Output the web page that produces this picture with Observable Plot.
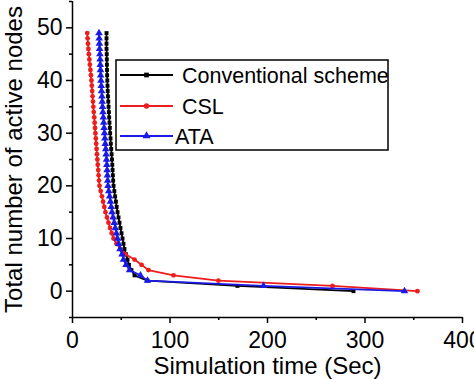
<!DOCTYPE html>
<html>
<head>
<meta charset="utf-8">
<script src="https://cdn.jsdelivr.net/npm/d3@7"></script>
<script src="https://cdn.jsdelivr.net/npm/@observablehq/plot@0.6"></script>
<style>
  html, body { margin: 0; padding: 0; background: #fff; }
  #chart { width: 474px; height: 379px; }
</style>
</head>
<body>
<div id="chart"></div>
<script>
// Number of active nodes (y) for each recorded step
const nodes = [49,48,47,46,45,44,43,42,41,40,39,38,37,36,35,34,33,32,31,30,29,28,27,26,25,24,23,22,21,20,19,18,17,16,15,14,13,12,11,10,9,8,7,6,5,4,3,2,1,0];

// Simulation time (Sec) at which each node count is reached
const conventionalTime = [34.9,34.9,34.9,34.9,35.1,35.2,35.3,35.4,35.5,35.7,35.9,36.1,36.4,36.7,37.0,37.3,37.6,37.9,38.3,38.6,39.0,39.3,39.7,40.1,40.5,40.8,41.1,41.4,41.7,42.1,42.9,43.7,44.5,45.3,46.2,47.2,48.2,49.2,50.3,51.3,52.3,53.3,54.9,56.4,57.9,60.5,63.6,76.9,169.2,288.2];
const cslTime = [15.1,15.5,15.9,16.3,16.8,17.3,17.8,18.4,18.9,19.4,19.8,20.2,20.6,21.0,21.4,21.8,22.3,22.7,23.1,23.5,23.9,24.3,24.7,25.1,25.5,25.9,26.4,26.8,27.2,27.7,28.9,30.2,31.4,32.6,33.8,35.4,36.9,38.5,40.2,42.1,45.1,49.2,54.4,63.6,70.8,77.9,103.6,149.7,266.7,353.8];
const ataTime = [27.2,27.4,27.6,27.8,28.1,28.3,28.5,28.7,28.9,29.2,29.5,29.8,30.2,30.5,30.8,31.2,31.6,32.0,32.4,32.8,33.2,33.6,34.1,34.5,34.9,35.2,35.5,35.8,36.1,36.4,37.2,38.1,38.9,39.7,40.5,41.6,42.8,43.9,45.0,46.2,47.4,48.7,50.8,52.3,54.9,58.5,69.7,76.9,195.9,340.5];

const seriesNames = ["Conventional scheme", "CSL", "ATA"];
const xMajorTicks = [0, 100, 200, 300, 400];
const xMinorTicks = [50, 150, 250, 350];
const yMajorTicks = [0, 10, 20, 30, 40, 50];
const yMinorTicks = [-5, 5, 15, 25, 35, 45, 55];

const seriesTimes = [conventionalTime, cslTime, ataTime];
const colors = ["#000000", "#ee1c1c", "#1a1ae6"];
const symbols = ["square", "circle", "triangle"];
const radii = [2.2, 2.4, 2.8];

const data = seriesNames.flatMap((name, si) =>
  nodes.map((n, i) => ({series: name, time: seriesTimes[si][i], nodes: n}))
);

const marks = [];
seriesNames.forEach((name, si) => {
  const d = data.filter(r => r.series === name);
  marks.push(Plot.line(d, {x: "time", y: "nodes", stroke: colors[si], strokeWidth: 1.8}));
  marks.push(Plot.dot(d, {x: "time", y: "nodes", fill: colors[si], stroke: "none", symbol: () => symbols[si], r: radii[si]}));
});

const chart = Plot.plot({
  width: 474,
  height: 379,
  marginLeft: 72,
  marginRight: 12,
  marginTop: 1,
  marginBottom: 62,
  style: {fontFamily: "'Liberation Sans', Arial, sans-serif", fontSize: "23px", color: "#000", background: "#fff"},
  x: {domain: [0, 400]},
  y: {domain: [-5, 55]},
  marks: [
    Plot.axisX({ticks: xMinorTicks, tickSize: 3, tickFormat: () => "", label: null, strokeWidth: 1.5}),
    Plot.axisX({ticks: xMajorTicks, tickSize: 6, tickPadding: 8, fontSize: 23, strokeWidth: 1.5,
      label: "Simulation time (Sec)", labelAnchor: "center", labelArrow: "none", labelOffset: 56}),
    Plot.axisY({ticks: yMinorTicks, tickSize: 3, tickFormat: () => "", label: null, strokeWidth: 1.5}),
    Plot.axisY({ticks: yMajorTicks, tickSize: 6, tickPadding: 4, fontSize: 23, strokeWidth: 1.5,
      label: "Total number of active nodes", labelAnchor: "center", labelArrow: "none", labelOffset: 68}),
    Plot.ruleX([0], {strokeWidth: 1.5}),
    Plot.ruleY([-5], {strokeWidth: 1.5}),
    ...marks
  ]
});

// axis titles slightly larger than tick labels
d3.select(chart).selectAll("g[aria-label='x-axis label'] text, g[aria-label='y-axis label'] text")
  .style("font-size", "24px");

// Legend box inside the plot
const svg = d3.select(chart);
const lg = svg.append("g").attr("font-family", "'Liberation Sans', Arial, sans-serif")
  .attr("font-size", "21.5px").attr("text-anchor", "start");
lg.append("rect").attr("x", 116).attr("y", 60).attr("width", 272).attr("height", 90)
  .attr("fill", "#fff").attr("stroke", "#000").attr("stroke-width", 1.5);
const rowY = [75, 106, 136];
const textX = [182, 182, 175];
seriesNames.forEach((name, i) => {
  lg.append("line").attr("x1", 120).attr("x2", 173).attr("y1", rowY[i]).attr("y2", rowY[i])
    .attr("stroke", colors[i]).attr("stroke-width", 1.8);
  lg.append("path").attr("transform", `translate(146.5,${rowY[i]})`)
    .attr("d", d3.symbol(i === 0 ? d3.symbolSquare : i === 1 ? d3.symbolCircle : d3.symbolTriangle, i === 2 ? 28 : 22)())
    .attr("fill", colors[i]);
  lg.append("text").attr("x", textX[i]).attr("y", rowY[i]).attr("dy", "0.36em")
    .attr("text-anchor", "start").text(name).attr("fill", "#000");
});

document.getElementById("chart").appendChild(chart);
</script>
</body>
</html>
